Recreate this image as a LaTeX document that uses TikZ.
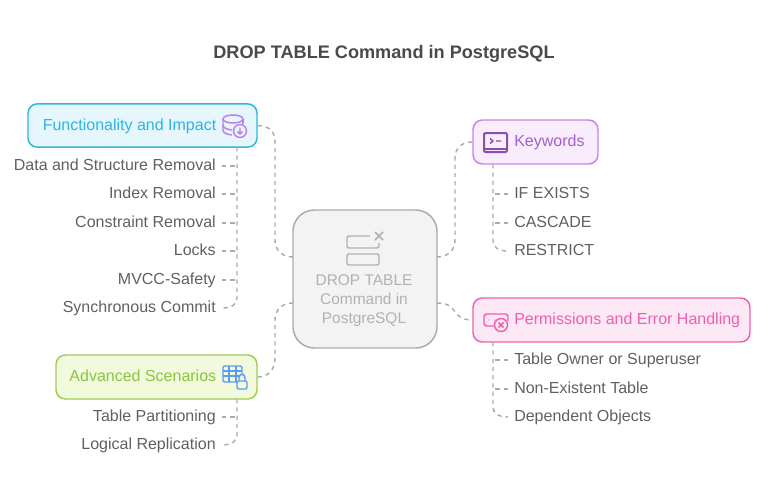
\documentclass[tikz,border=0pt]{standalone}
\usepackage{fontspec}
\setmainfont{Liberation Sans}
\definecolor{funcblue}{HTML}{2DB5E2}
\definecolor{funcfill}{HTML}{E5F6FD}
\definecolor{keypurple}{HTML}{A45FC9}
\definecolor{keyline}{HTML}{C685EC}
\definecolor{keyfill}{HTML}{F8ECFD}
\definecolor{keyicon}{HTML}{8A4FA8}
\definecolor{permpink}{HTML}{EC60B2}
\definecolor{permfill}{HTML}{FDE8F5}
\definecolor{advgreen}{HTML}{8CC63F}
\definecolor{advline}{HTML}{A0CB55}
\definecolor{advfill}{HTML}{F1FADD}
\definecolor{tableblue}{HTML}{5C9CEE}
\definecolor{dbpurple}{HTML}{C07EE8}
\definecolor{dropline}{HTML}{ABABAB}
\definecolor{dropfill}{HTML}{F3F3F3}
\definecolor{droptext}{HTML}{B2B2B2}
\definecolor{itemtext}{HTML}{606060}
\definecolor{titletext}{HTML}{4A4A4A}
\tikzset{
	headbox/.style={draw, line width=1.1pt, rounded corners=7pt, inner sep=0pt},
	headtext/.style={font=\fontsize{12}{14}\selectfont, inner sep=0pt, text height=8.6pt, text depth=2.6pt},
	itemleft/.style={anchor=east, inner ysep=0pt, inner xsep=4.5pt, text=itemtext, font=\fontsize{12}{14}\selectfont, text height=8.6pt, text depth=2.6pt},
	itemright/.style={itemleft, anchor=west},
	link/.style={draw=dropline, line width=1.1pt, dash pattern=on 3.2pt off 3pt},
	icon/.style={line width=1.1pt, line join=round}
}
\begin{document}
\begin{tikzpicture}[x=0.75pt, y=-0.75pt]
	\useasboundingbox (0, 0) rectangle (768, 493);
	\node (title) at (384, 54) {\fontsize{13.6}{16}\selectfont\bfseries\textcolor{titletext}{DROP TABLE Command in PostgreSQL}};
	% connectors
	\coordinate (dropa) at (293, 257);
	\coordinate (dropb) at (293, 303);
	\coordinate (dropc) at (437, 257);
	\coordinate (dropd) at (437, 303);
	\node (func) [headbox, draw=funcblue, fill=funcfill, minimum width=171.75pt, minimum height=32.5pt] at (142.5, 125.5) {};
	\node (key) [headbox, draw=keyline, fill=keyfill, minimum width=93.75pt, minimum height=33pt] at (535.5, 142) {};
	\node (perm) [headbox, draw=permpink, fill=permfill, minimum width=207.75pt, minimum height=33pt] at (611.5, 320) {};
	\node (adv) [headbox, draw=advline, fill=advfill, minimum width=150.75pt, minimum height=33pt] at (156.5, 377) {};
	\node (drop) [headbox, draw=dropline, fill=dropfill, rounded corners=16pt, minimum width=108pt, minimum height=103.5pt] at (365, 279) {};
	\draw [link] (func.east) .. controls (268, 126) and (275, 130) .. (275, 142) -- (275, 240) .. controls (275, 250) and (282, 257) .. (dropa);
	\draw [link] (adv.east) .. controls (268, 377) and (275, 370) .. (275, 358) -- (275, 320) .. controls (275, 310) and (282, 303) .. (dropb);
	\draw [link] (key.west) .. controls (462, 142) and (455, 148) .. (455, 158) -- (455, 240) .. controls (455, 250) and (448, 257) .. (dropc);
	\draw [link] (dropd) .. controls (460, 303) and (450, 320) .. (perm.west);
	% head labels
	\node (functext) [headtext, anchor=east, text=funcblue] at (216.5, 126) {Functionality and Impact};
	\node (keytext) [headtext, anchor=west, text=keypurple] at (514, 142) {Keywords};
	\node (permtext) [headtext, anchor=west, text=permpink] at (514, 320) {Permissions and Error Handling};
	\node (advtext) [headtext, anchor=east, text=advgreen] at (216.5, 377) {Advanced Scenarios};
	\node (droptxt) [align=center, text=droptext, font=\fontsize{11.6}{14.25}\selectfont, inner sep=0pt] at (364, 301) {DROP TABLE\\Command in\\PostgreSQL};
	% left items
	\node (data) [itemleft] at (222, 166) {Data and Structure Removal};
	\node (index) [itemleft] at (222, 194) {Index Removal};
	\node (constraint) [itemleft] at (222, 223) {Constraint Removal};
	\node (locks) [itemleft] at (222, 251) {Locks};
	\node (mvcc) [itemleft] at (222, 280) {MVCC-Safety};
	\node (commit) [itemleft] at (222, 308) {Synchronous Commit};
	\node (partition) [itemleft] at (222, 417) {Table Partitioning};
	\node (replica) [itemleft] at (222, 445) {Logical Replication};
	% right items
	\node (exists) [itemright] at (508, 194) {IF EXISTS};
	\node (cascade) [itemright] at (508, 223) {CASCADE};
	\node (restrict) [itemright] at (508, 251) {RESTRICT};
	\node (owner) [itemright] at (508, 360) {Table Owner or Superuser};
	\node (missing) [itemright] at (508, 389) {Non-Existent Table};
	\node (depend) [itemright] at (508, 417) {Dependent Objects};
	% branches
	\coordinate (funcroot) at (237, 147);
	\coordinate (advroot) at (237, 399);
	\coordinate (keyroot) at (493, 164);
	\coordinate (permroot) at (493, 342);
	\draw [link] (funcroot) -- (237, 298) .. controls (237, 304) and (232, 308) .. (commit.east);
	\draw [link] (data.east) -- (data.east -| funcroot);
	\draw [link] (index.east) -- (index.east -| funcroot);
	\draw [link] (constraint.east) -- (constraint.east -| funcroot);
	\draw [link] (locks.east) -- (locks.east -| funcroot);
	\draw [link] (mvcc.east) -- (mvcc.east -| funcroot);
	\draw [link] (advroot) -- (237, 435) .. controls (237, 441) and (232, 445) .. (replica.east);
	\draw [link] (partition.east) -- (partition.east -| advroot);
	\draw [link] (keyroot) -- (493, 241) .. controls (493, 247) and (498, 251) .. (restrict.west);
	\draw [link] (exists.west) -- (exists.west -| keyroot);
	\draw [link] (cascade.west) -- (cascade.west -| keyroot);
	\draw [link] (permroot) -- (493, 407) .. controls (493, 413) and (498, 417) .. (depend.west);
	\draw [link] (owner.west) -- (owner.west -| permroot);
	\draw [link] (missing.west) -- (missing.west -| permroot);
	% drop icon
	\draw [icon, droptext, rounded corners=1.5pt] (370, 236) -- (347, 236) -- (347, 248) -- (379, 248) -- (379, 243);
	\draw [icon, droptext, rounded corners=1.5pt] (347, 254) rectangle (379, 265);
	\draw [icon, droptext] (375, 232) -- (383, 240);
	\draw [icon, droptext] (383, 232) -- (375, 240);
	% database icon
	\draw [icon, dbpurple] (233, 119) ellipse (10 and 4);
	\draw [icon, dbpurple] (223, 119) -- (223, 130) .. controls (223, 133) and (227, 134.5) .. (232, 135);
	\draw [icon, dbpurple] (243, 119) -- (243, 124);
	\draw [icon, dbpurple] (223, 125) .. controls (223, 128) and (227, 129.5) .. (232, 130);
	\draw [icon, dbpurple, fill=funcfill] (240, 131) circle (6.5);
	\draw [icon, dbpurple] (240, 127.5) -- (240, 134) (237.5, 131.5) -- (240, 134) -- (242.5, 131.5);
	% terminal icon
	\draw [icon, keyicon, line width=1.5pt, rounded corners=1pt, fill=keyfill] (484, 133) rectangle (507, 152);
	\draw [icon, keyicon] (484, 149) -- (507, 149);
	\draw [icon, keyicon] (490, 138.5) -- (493, 141) -- (490, 143.5) (496, 141) -- (501, 141);
	% permission icon
	\draw [icon, permpink, rounded corners=2pt] (495, 326) -- (484, 326) -- (484, 314) -- (508, 314) -- (508, 321);
	\draw [icon, permpink, line cap=round, dash pattern=on 0pt off 4pt] (489, 320) -- (498, 320);
	\draw [icon, permpink, fill=permfill] (501, 325) circle (6.5);
	\draw [icon, permpink] (498.5, 322.5) -- (503.5, 327.5) (503.5, 322.5) -- (498.5, 327.5);
	% table icon
	\draw [icon, tableblue, rounded corners=1pt] (223, 366) rectangle (242, 382);
	\draw [icon, tableblue] (223, 371) -- (242, 371) (223, 376) -- (242, 376) (229, 366) -- (229, 382) (236, 366) -- (236, 382);
	\draw [icon, tableblue, fill=advfill] (239, 381) -- (239, 378) .. controls (239, 373) and (245, 373) .. (245, 378) -- (245, 381);
	\draw [icon, tableblue, fill=advfill, rounded corners=1pt] (237, 381) rectangle (247, 389);
\end{tikzpicture}
\end{document}
